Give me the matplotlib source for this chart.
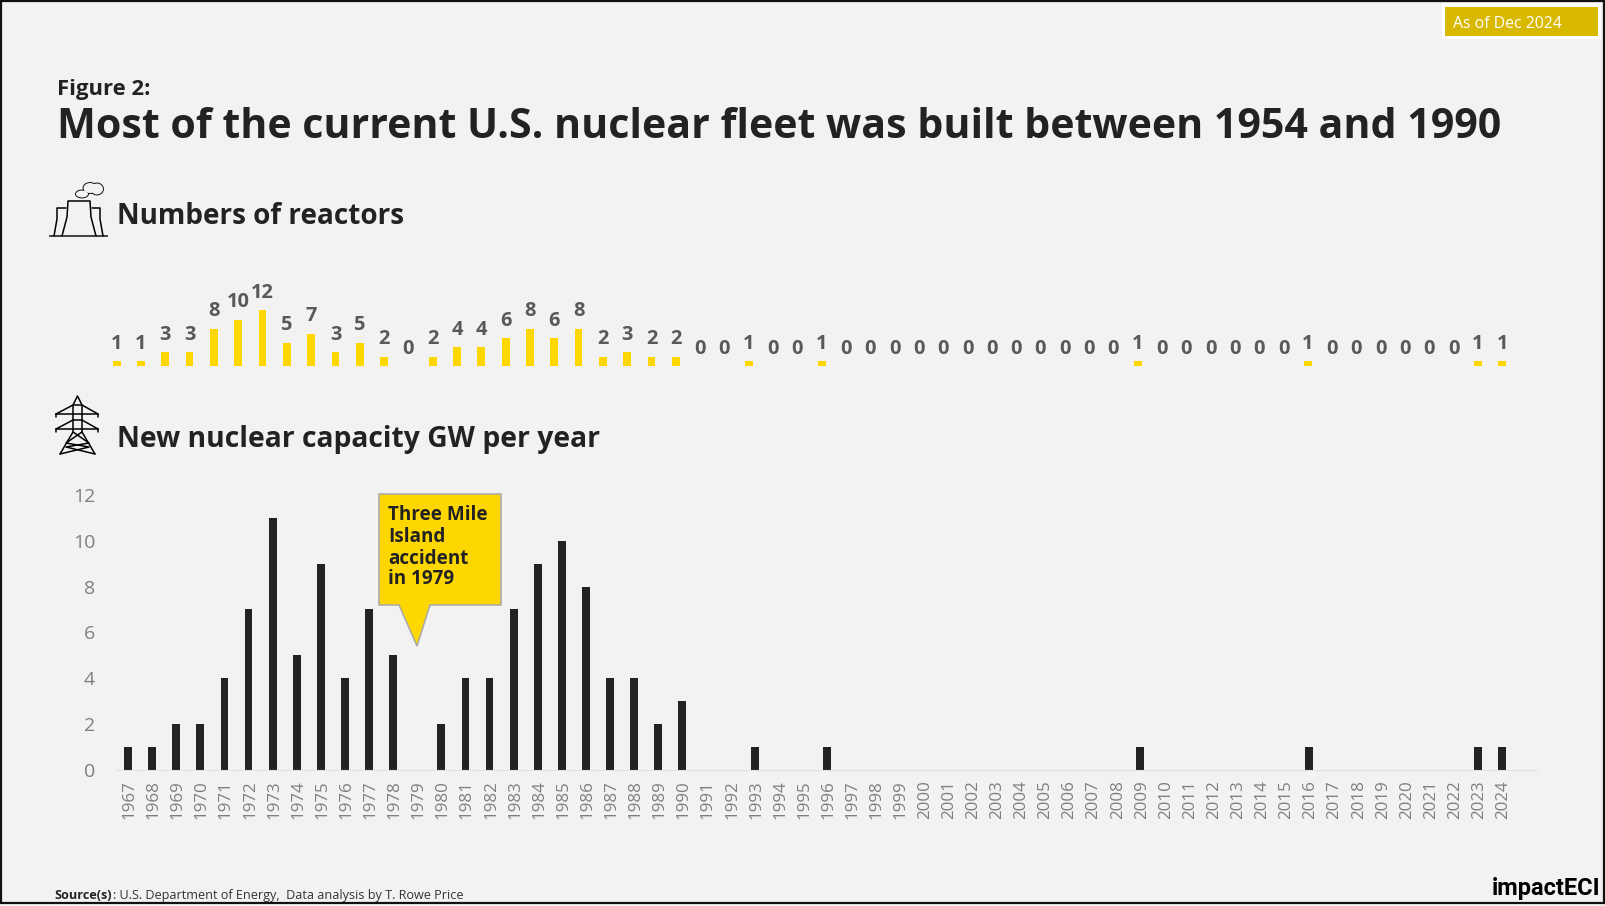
import matplotlib
matplotlib.use("Agg")
import matplotlib.pyplot as plt
from matplotlib.patches import Rectangle, Polygon, Ellipse
from matplotlib.lines import Line2D
from matplotlib.transforms import ScaledTranslation
import numpy as np

plt.rcParams["font.family"] = ["Open Sans", "DejaVu Sans"]

years = list(range(1967, 2025))
reactors = [1, 1, 3, 3, 8, 10, 12, 5, 7, 3, 5, 2, 0, 2, 4, 4, 6, 8, 6, 8, 2, 3, 2, 2,
            0, 0, 1, 0, 0, 1, 0, 0, 0, 0, 0, 0, 0, 0, 0, 0, 0, 0, 1,
            0, 0, 0, 0, 0, 0, 1, 0, 0, 0, 0, 0, 0, 1, 1]
capacity_gw = [1, 1, 2, 2, 4, 7, 11, 5, 9, 4, 7, 5, 0, 2, 4, 4, 7, 9, 10, 8, 4, 4, 2, 3,
               0, 0, 1, 0, 0, 1, 0, 0, 0, 0, 0, 0, 0, 0, 0, 0, 0, 0, 1,
               0, 0, 0, 0, 0, 0, 1, 0, 0, 0, 0, 0, 0, 1, 1]
capacity_ticks = [0, 2, 4, 6, 8, 10, 12]

W, H = 1606, 906
BG = "#F2F2F2"
GOLD = "#FFD700"
INK = "#222222"
GREY = "#7F7F7F"

fig = plt.figure(figsize=(W / 100, H / 100), dpi=100, facecolor=BG)


def px_axes(x0, x1, y_top, y_bottom):
    return fig.add_axes([x0 / W, 1 - y_bottom / H, (x1 - x0) / W, (y_bottom - y_top) / H])


# Page-level furniture is laid out in pixel coordinates
page = fig.add_axes([0, 0, 1, 1], zorder=0)
page.set_xlim(0, W)
page.set_ylim(H, 0)
page.axis("off")
page.add_patch(Rectangle((1, 1), 1603, 902, fc="none", ec="#111111", lw=1.6))

page.text(57, 90, "Figure 2:", fontsize=15.8, fontweight="bold", color=INK, va="center")
page.text(57, 128, "Most of the current U.S. nuclear fleet was built between 1954 and 1990",
          fontsize=29.6, fontweight="bold", color=INK, va="center")
page.text(117, 217, "Numbers of reactors", fontsize=20.1, fontweight="bold", color=INK, va="center")
page.text(117, 440, "New nuclear capacity GW per year", fontsize=20.3, fontweight="bold",
          color=INK, va="center")

# Date tag in the top right corner
page.add_patch(Rectangle((1442, 3), 159, 36, fc="white", ec="none"))
page.add_patch(Rectangle((1445, 6.5), 153, 29.5, fc="#D9B800", ec="none"))
page.text(1453, 24, "As of Dec 2024", fontsize=11.4, color="white", va="center")

# Footer
page.text(54, 895.5, "Source(s)", fontsize=9.1, fontweight="bold", color=INK, va="center")
page.text(113, 895.5, ": U.S. Department of Energy,  Data analysis by T. Rowe Price",
          fontsize=9.1, color="#333333", va="center")
page.text(1600, 888, "impactECI", fontsize=17, fontweight="bold", family="Roboto", color="black",
          va="center", ha="right")

# Cooling tower icon
ic = dict(color="black", lw=1.1, solid_capstyle="round")
page.add_line(Line2D([50, 107], [236, 236], color="#333333", lw=1.3))
page.plot([62, 67, 68, 90, 91, 96], [236, 217, 201, 201, 217, 236], **ic)
page.plot([54, 57, 57, 66], [236, 219, 208, 208], **ic)
page.plot([103, 100, 100, 92], [236, 219, 208, 208], **ic)
cloud = [(82, 194, 6, 3.5), (90, 188, 6.5, 5), (97, 189, 6, 5.5)]
for cx, cy, rx, ry in cloud:
    page.add_patch(Ellipse((cx, cy), 2 * rx, 2 * ry, fc="none", ec="black", lw=1.3))
for cx, cy, rx, ry in cloud:
    page.add_patch(Ellipse((cx, cy), 2 * rx, 2 * ry, fc=BG, ec="none", zorder=3))

# Transmission tower icon
page.plot([60, 73, 73, 77.5, 82, 82, 95], [454, 432, 405, 396, 405, 432, 454], **ic)
for base, rise in [(414, 405), (429, 420)]:
    page.plot([56, 98], [base, base], **ic)
    page.plot([56, 73, 82, 98], [base, rise, rise, base], **ic)
    page.plot([56, 56], [base, base + 3], **ic)
    page.plot([98, 98], [base, base + 3], **ic)
page.plot([73, 89, 66, 95], [432, 443, 447, 454], **ic)
page.plot([82, 66, 89, 60], [432, 443, 447, 454], **ic)

# Reactor counts per year
top = px_axes(104.5, 1514.5, 280, 366)
x = np.arange(len(years))
top.bar(x, reactors, width=0.32, color=GOLD, linewidth=0)
top.set_xlim(-0.5, len(years) - 0.5)
top.set_ylim(0, 86 / 4.64)
top.axis("off")
top.patch.set_alpha(0)
for xi, v in zip(x, reactors):
    top.annotate(str(v), (xi, v), xytext=(0, 7.5), textcoords="offset pixels", ha="center",
                 va="bottom", fontsize=14.4, fontweight="bold", color="#595959",
                 annotation_clip=False)

# New capacity per year; the baseline runs on past the final year
bot = px_axes(116, 1537, 494.6, 770.3)
bot.bar(x, capacity_gw, width=0.32, color=INK, linewidth=0)
bot.set_xlim(-0.5, (1537 - 116) / 24.1 - 0.5)
bot.set_ylim(0, 12)
bot.patch.set_alpha(0)
for s in ("top", "right", "left"):
    bot.spines[s].set_visible(False)
bot.spines["bottom"].set_color("#E0E0E0")
bot.set_yticks(capacity_ticks)
bot.set_yticklabels([str(t) for t in capacity_ticks], fontsize=14, color=GREY)
bot.set_xticks(x)
bot.set_xticklabels([str(y) for y in years], rotation=90, fontsize=12.2, color=GREY)
bot.tick_params(length=0, axis="y", pad=15)
bot.tick_params(length=0, axis="x", pad=7)
nudge = ScaledTranslation(1.5 / 100, 0, fig.dpi_scale_trans)
for lab in bot.get_xticklabels():
    lab.set_transform(lab.get_transform() + nudge)

# Callout for 1979
over = fig.add_axes([0, 0, 1, 1], zorder=5)
over.set_xlim(0, W)
over.set_ylim(H, 0)
over.axis("off")
over.patch.set_alpha(0)
over.add_patch(Polygon([(379, 494), (501, 494), (501, 605), (430, 605), (417, 646), (399, 605), (379, 605)],
                       closed=True, fc=GOLD, ec="#A9A9A9", lw=1.1))
for yy, line in zip([515, 537, 559, 579], ["Three Mile", "Island", "accident", "in 1979"]):
    over.text(388, yy, line, fontsize=13.6, fontweight="bold", color=INK, va="center")

fig.savefig("out.png", dpi=100, facecolor=BG)
